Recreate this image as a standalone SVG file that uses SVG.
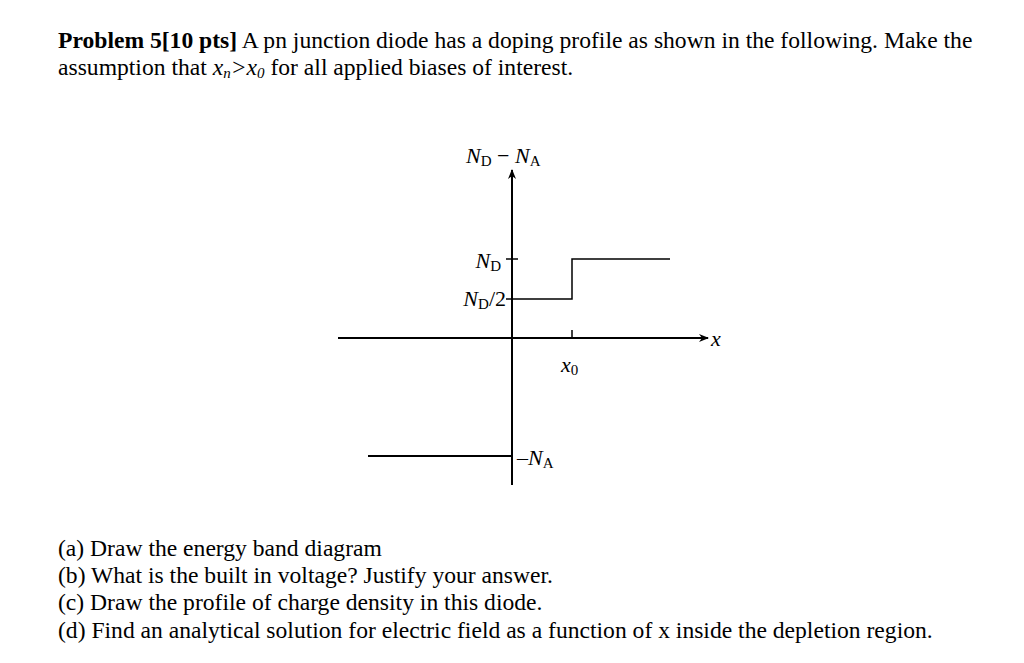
<svg xmlns="http://www.w3.org/2000/svg" width="1024" height="663" viewBox="0 0 1024 663">
<style>
text{font-family:"Liberation Serif",serif;fill:#000}
.t{font-size:23.6px}
.m{font-size:22px;font-style:italic}
.s{font-size:15px;font-style:normal}
.ax{stroke:#000;stroke-width:2;fill:none}
.ln{stroke:#000;stroke-width:1.5;fill:none}
</style>
<defs><marker id="ar" markerWidth="10" markerHeight="8" refX="9" refY="4" orient="auto" markerUnits="userSpaceOnUse"><path d="M0,0L10,4L0,8L3,4z" fill="#000"/></marker></defs>
<rect width="1024" height="663" fill="#fff"/>
<text class="t" x="58" y="48"><tspan font-weight="bold">Problem 5[10 pts]</tspan> A pn junction diode has a doping profile as shown in the following. Make the</text>
<text class="t" x="58" y="75">assumption that <tspan font-style="italic">x<tspan font-size="15" dy="3">n</tspan><tspan dy="-3">&gt;x</tspan><tspan font-size="15" dy="3">0</tspan></tspan><tspan dy="-3"> for all applied biases of interest.</tspan></text>
<g id="connectors">
<line class="ax" x1="512" y1="485" x2="512" y2="170" marker-end="url(#ar)"/>
<line class="ax" x1="338" y1="338" x2="708" y2="338" marker-end="url(#ar)"/>
<path class="ln" d="M512,299H572V259H670"/>
<line class="ax" x1="368" y1="456" x2="512" y2="456"/>
<line class="ln" x1="506" y1="259" x2="518" y2="259"/>
<line class="ln" x1="506" y1="299" x2="512" y2="299"/>
<line class="ln" x1="572" y1="330" x2="572" y2="338"/>
</g>
<g id="labels">
<text class="m" x="466" y="163">N<tspan class="s" dy="3">D</tspan><tspan dy="-3" font-style="normal"> − </tspan>N<tspan class="s" dy="3">A</tspan></text>
<text class="m" x="501" y="268" text-anchor="end">N<tspan class="s" dy="3">D</tspan></text>
<text class="m" x="506" y="306" text-anchor="end">N<tspan class="s" dy="3">D</tspan><tspan dy="-3" font-style="normal">/2</tspan></text>
<text class="m" x="561" y="372">x<tspan class="s" dy="3">0</tspan></text>
<text class="m" x="711" y="346">x</text>
<text class="m" x="517" y="465"><tspan font-style="normal">–</tspan>N<tspan class="s" dy="3">A</tspan></text>
</g>
<text class="t" x="58" y="556">(a) Draw the energy band diagram</text>
<text class="t" x="58" y="583">(b) What is the built in voltage? Justify your answer.</text>
<text class="t" x="58" y="610">(c) Draw the profile of charge density in this diode.</text>
<text class="t" x="58" y="638">(d) Find an analytical solution for electric field as a function of x inside the depletion region.</text>
</svg>
